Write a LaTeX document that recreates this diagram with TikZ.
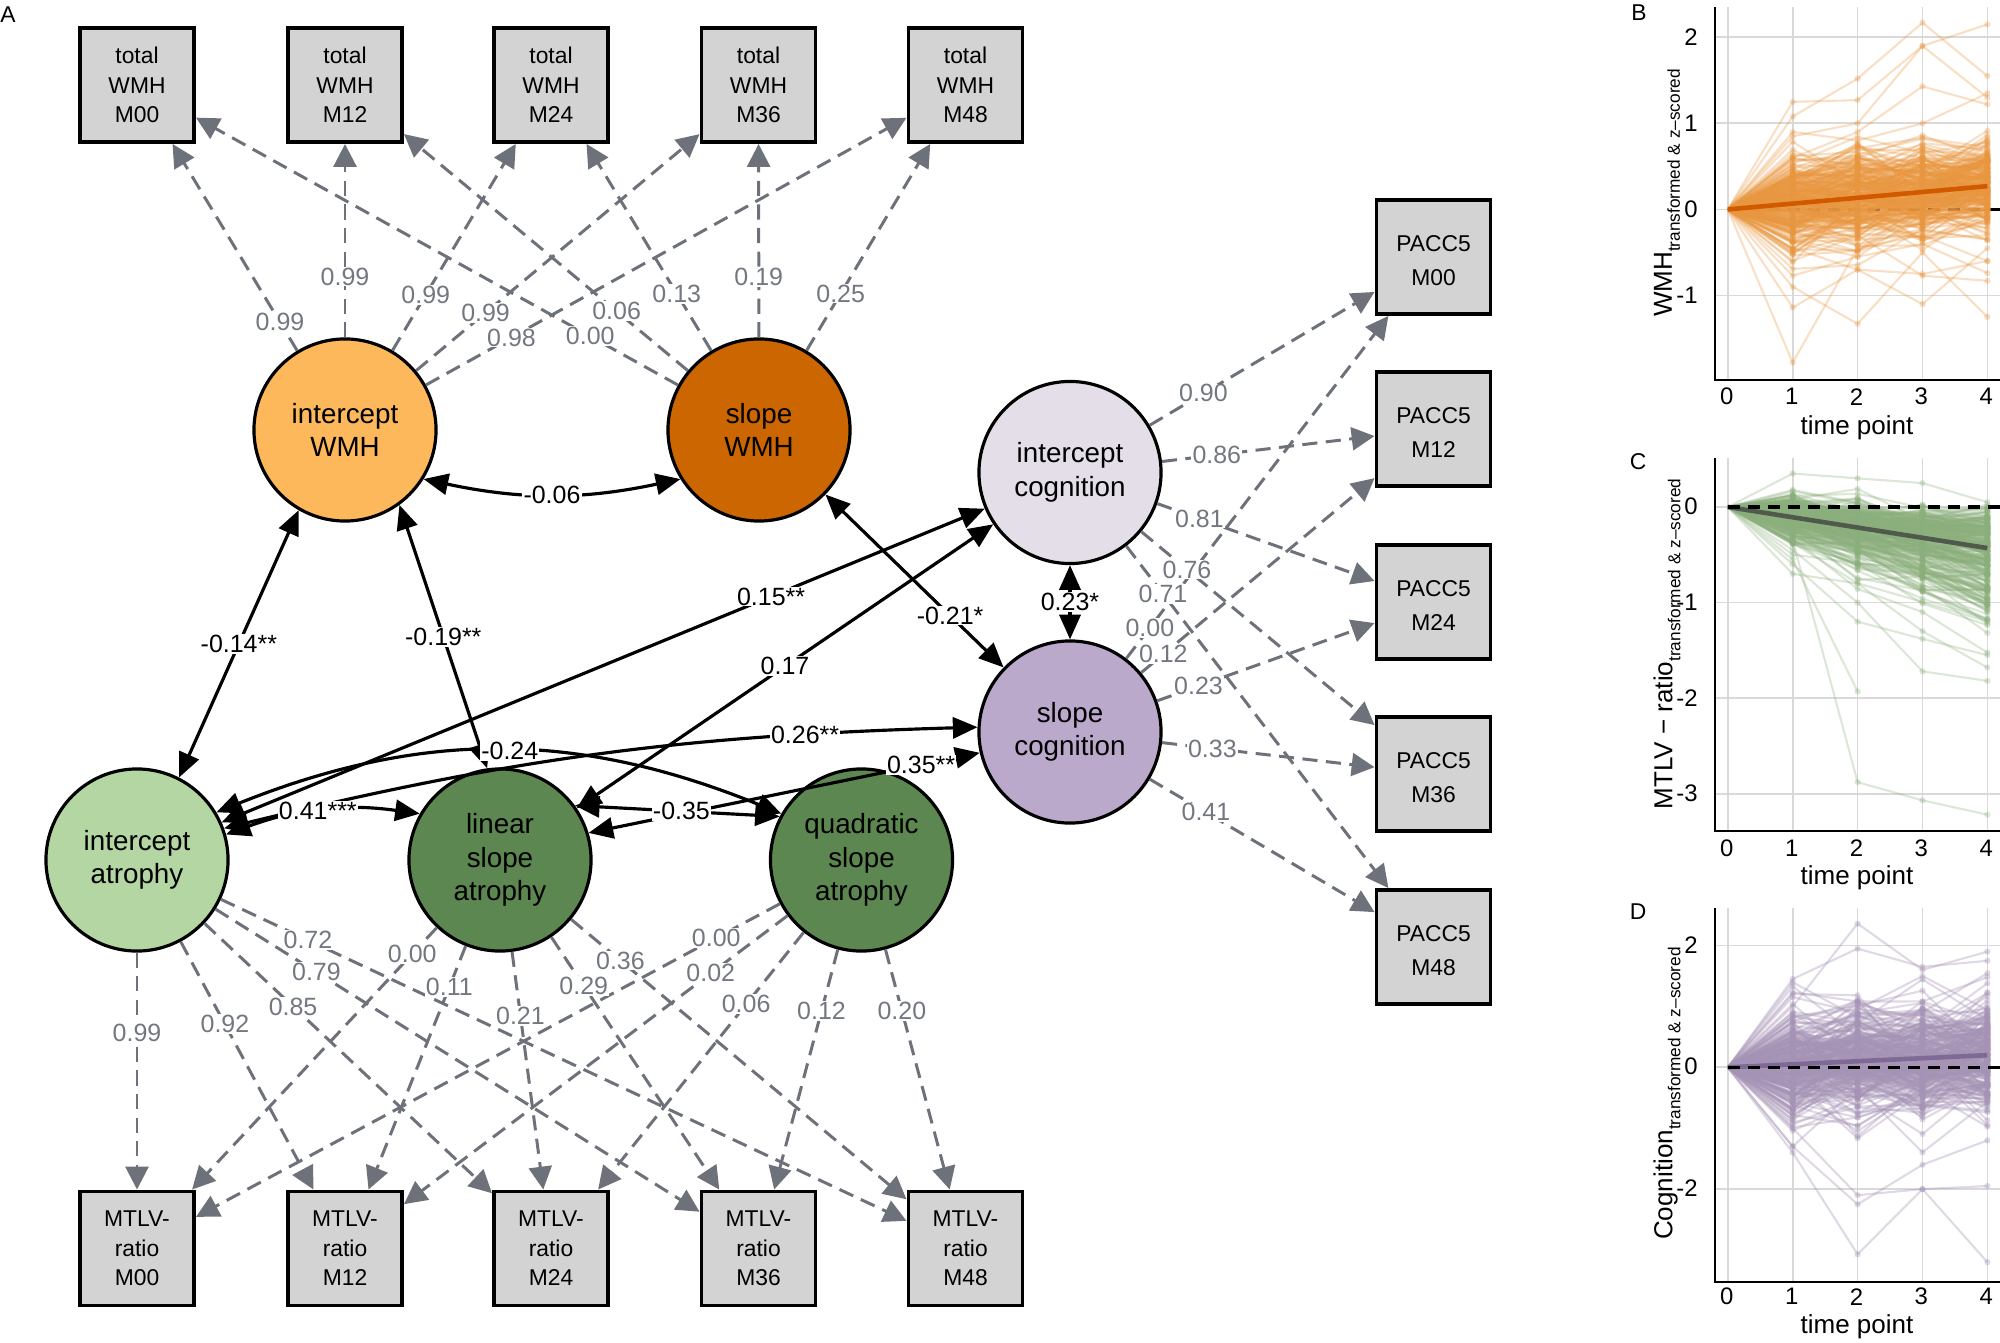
\documentclass[tikz,border=0pt]{standalone}
\usepackage{fontspec}
\setmainfont{Liberation Sans}
\usetikzlibrary{arrows.meta}
\definecolor{boxfill}{HTML}{D3D3D3}
\definecolor{cIW}{HTML}{FDB85B}
\definecolor{cSW}{HTML}{CC6600}
\definecolor{cIC}{HTML}{E3DEE8}
\definecolor{cSC}{HTML}{BBA9CC}
\definecolor{cIA}{HTML}{B3D6A3}
\definecolor{cSA}{HTML}{5D8750}
\definecolor{lgray}{HTML}{6D727A}
\definecolor{tgray}{HTML}{737880}
\definecolor{gridc}{HTML}{D9D9D9}
\definecolor{cB}{HTML}{E8963F}
\definecolor{cC}{HTML}{8AAE7B}
\definecolor{cD}{HTML}{A593B5}
\definecolor{mB}{HTML}{D15A00}
\definecolor{mC}{HTML}{505A4C}
\definecolor{mD}{HTML}{7E6A94}
\tikzset{
 lat/.style={circle, draw=black, line width=0.9pt, minimum size=1.82cm, inner sep=0pt, align=center, font=\fontsize{7.9}{9.5}\selectfont},
 obs/.style={rectangle, draw=black, line width=1.1pt, fill=boxfill, minimum width=1.14cm, minimum height=1.14cm, inner sep=0pt, align=center, font=\fontsize{6.5}{8.4}\selectfont},
 load/.style={draw=lgray, line width=0.85pt, dash pattern=on 4.3pt off 2.4pt, -{Triangle[length=6.5pt,width=6.5pt]}},
 cov/.style={draw=black, line width=0.9pt, {Triangle[length=7pt,width=6pt]}-{Triangle[length=7pt,width=6pt]}},
 glab/.style={fill=white, inner sep=0.3pt, text=tgray, font=\fontsize{7.1}{8}\selectfont},
 blab/.style={fill=white, inner sep=0.3pt, text=black, font=\fontsize{7.1}{8}\selectfont},
 gridl/.style={draw=gridc, line width=0.5pt},
 zero/.style={draw=black, line width=1pt, dash pattern=on 3.4pt off 2.3pt},
 axisl/.style={draw=black, line width=0.5pt},
 tick/.style={font=\fontsize{6.8}{8}\selectfont},
 atitle/.style={font=\fontsize{7.4}{9}\selectfont},
 plab/.style={font=\fontsize{6.5}{8}\selectfont},
 bl/.style={draw=cB, opacity=0.3, line width=0.6pt},
 bd/.style={fill=cB, opacity=0.3},
 cl/.style={draw=cC, opacity=0.3, line width=0.6pt},
 cd/.style={fill=cC, opacity=0.3},
 dl/.style={draw=cD, opacity=0.35, line width=0.6pt},
 dd/.style={fill=cD, opacity=0.35},
}
\newcommand{\subtz}{\raisebox{-0.3em}{\fontsize{4.9}{5}\selectfont transformed \& z–scored}}
\newcommand{\pacctext}[1]{\raisebox{-1.6pt}[\height][\depth]{\begin{tabular}{@{}c@{}}PACC5\\[1.5pt]#1\end{tabular}}}
\def\loadlist{iWMH/wm0/0.138/0.99,%
iWMH/wm1/0.315/0.99,%
iWMH/wm2/0.27/0.99,%
iWMH/wm3/0.245/0.99,%
iWMH/wm4/0.178/0.98,%
sWMH/wm0/0.182/0.00,%
sWMH/wm1/0.251/0.06,%
sWMH/wm2/0.276/0.13,%
sWMH/wm3/0.314/0.19,%
sWMH/wm4/0.276/0.25,%
iCog/pc0/0.239/0.90,%
iCog/pc1/0.258/0.86,%
iCog/pc2/0.194/0.81,%
iCog/pc3/0.196/0.76,%
iCog/pc4/0.14/0.71,%
sCog/pc0/0.09/0.00,%
sCog/pc1/0.095/0.12,%
sCog/pc2/0.19/0.23,%
sCog/pc3/0.237/0.33,%
sCog/pc4/0.25/0.41,%
iAtr/mt0/0.34/0.99,%
iAtr/mt1/0.333/0.92,%
iAtr/mt2/0.308/0.85,%
iAtr/mt3/0.2085/0.79,%
iAtr/mt4/0.127/0.72,%
lsa/mt0/0.10/0.00,%
lsa/mt1/0.168/0.11,%
lsa/mt2/0.269/0.21,%
lsa/mt3/0.193/0.29,%
lsa/mt4/0.147/0.36,%
qsa/mt0/0.109/0.00,%
qsa/mt1/0.2/0.02,%
qsa/mt2/0.28/0.06,%
qsa/mt3/0.255/0.12,%
qsa/mt4/0.255/0.20}
\begin{document}
\begin{tikzpicture}[x=0.01cm,y=0.01cm]
\useasboundingbox (0,0) rectangle (2000,-1343);
\node[plab] (pA) at (8,-15) {A};
% observed boxes
\node[obs] (wm0) at (137,-85) {total\\WMH\\M00};
\node[obs] (wm1) at (345,-85) {total\\WMH\\M12};
\node[obs] (wm2) at (551,-85) {total\\WMH\\M24};
\node[obs] (wm3) at (758.5,-85) {total\\WMH\\M36};
\node[obs] (wm4) at (965.5,-85) {total\\WMH\\M48};
\node[obs] (mt0) at (137,-1248.5) {MTLV-\\ratio\\M00};
\node[obs] (mt1) at (345,-1248.5) {MTLV-\\ratio\\M12};
\node[obs] (mt2) at (551,-1248.5) {MTLV-\\ratio\\M24};
\node[obs] (mt3) at (758.5,-1248.5) {MTLV-\\ratio\\M36};
\node[obs] (mt4) at (965.5,-1248.5) {MTLV-\\ratio\\M48};
\node[obs] (pc0) at (1433.5,-257) {\pacctext{M00}};
\node[obs] (pc1) at (1433.5,-429) {\pacctext{M12}};
\node[obs] (pc2) at (1433.5,-602) {\pacctext{M24}};
\node[obs] (pc3) at (1433.5,-774) {\pacctext{M36}};
\node[obs] (pc4) at (1433.5,-947) {\pacctext{M48}};
% latent variables
\node[lat, fill=cIW] (iWMH) at (345,-430) {intercept\\WMH};
\node[lat, fill=cSW] (sWMH) at (759,-430) {slope\\WMH};
\node[lat, fill=cIC] (iCog) at (1070,-472.5) {intercept\\cognition};
\node[lat, fill=cSC] (sCog) at (1070,-732) {slope\\cognition};
\node[lat, fill=cIA] (iAtr) at (137,-860) {intercept\\atrophy};
\node[lat, fill=cSA] (lsa) at (500,-860) {linear\\slope\\atrophy};
\node[lat, fill=cSA] (qsa) at (861.5,-860) {quadratic\\slope\\atrophy};
% loadings
\foreach \src/\dst/\p/\t [count=\n] in \loadlist {
  \draw[load] (\src) -- coordinate[pos=\p] (L\n) (\dst);
}
% covariances
\draw[cov] (iWMH.-32) to[bend right=12] coordinate[pos=0.5] (K1) (sWMH.-148);
\draw[cov] (iWMH.-120) -- coordinate[pos=0.5] (K2) (iAtr.63);
\draw[cov] (iWMH.-54) -- coordinate[pos=0.5] (K3) (lsa.98);
\draw[cov] (iAtr.24) -- coordinate[pos=0.72] (K4) (iCog.203);
\draw[cov] (lsa.34) -- coordinate[pos=0.5] (K5) (iCog.214);
\draw[cov] (sWMH) -- coordinate[pos=0.7] (K6) (sCog);
\draw[cov] (iCog) -- coordinate[pos=0.5] (K7) (sCog);
\draw[cov] (iAtr.20) to[bend left=6] coordinate[pos=0.79] (K8) (sCog.177);
\draw[cov] (lsa.17) -- coordinate[pos=0.85] (K9) (sCog.193);
\draw[cov] (iAtr.31) to[bend left=22] coordinate[pos=0.52] (K10) (qsa.150);
\draw[cov] (iAtr.16) to[bend left=14] coordinate[pos=0.48] (K11) (lsa.150);
\draw[cov] (lsa.36) -- coordinate[pos=0.52] (K12) (qsa.152);
% labels
\foreach \src/\dst/\p/\t [count=\n] in \loadlist {
  \node[glab] at (L\n) {\t};
}
\node[blab] at (K1) {-0.06};
\node[blab] at (K2) {-0.14**};
\node[blab] at (K3) {-0.19**};
\node[blab] at (K4) {0.15**};
\node[blab] at (K5) {0.17};
\node[blab] at (K6) {-0.21*};
\node[blab] at (K7) {0.23*};
\node[blab] at (K8) {0.26**};
\node[blab] at (K9) {0.35**};
\node[blab] at (K10) {-0.24};
\node[blab] at (K11) {0.41***};
\node[blab] at (K12) {-0.35};

% ---------------- Panel B ----------------
\begin{scope}[shift={(17.268cm,-2.093cm)},x=0.6485cm,y=0.86cm]
 \begin{scope}
 \clip (-0.197,-1.985) rectangle (4.3,2.35);
 \foreach \t in {0,...,4} \draw[gridl] (\t,-1.985) -- (\t,2.35);
 \foreach \v in {-1,0,1,2} \draw[gridl] (-0.197,\v) -- (4.3,\v);
 \draw[zero] (0,0) -- (4.3,0);
 \pgfmathsetseed{7}
 \foreach \i in {1,...,280}{
  \pgfmathsetmacro\uu{0.2*(rand+rand+rand)}
  \pgfmathsetmacro\ya{0.067+\uu+0.17*(rand+rand+rand)}
  \pgfmathsetmacro\yb{0.134+\uu+0.17*(rand+rand+rand)}
  \pgfmathsetmacro\yc{0.2+\uu+0.17*(rand+rand+rand)}
  \pgfmathsetmacro\yd{0.27+\uu+0.17*(rand+rand+rand)}
  \draw[bl] (0,0) -- (1,\ya) -- (2,\yb) -- (3,\yc) -- (4,\yd);
  \foreach \q/\w in {1/\ya,2/\yb,3/\yc,4/\yd} \fill[bd] (\q,\w) circle[radius=0.9pt];
 }
 \foreach \ya/\yb/\yc/\yd in {1.25/1.27/1.9/1.3, 0.85/1.0/1.9/2.15, 1.08/1.52/2.17/1.55, -1.78/-0.45/-0.3/-0.6, -1.14/-0.7/-1.1/-0.45, -0.9/-1.33/-0.5/-1.25, 0.6/0.9/1.43/1.22, -0.6/-0.3/-0.77/-0.83, -0.77/-0.55/-0.4/-0.74, 0.9/0.8/1.0/1.35, -0.45/-0.7/-0.75/-0.6}{
  \draw[bl] (0,0) -- (1,\ya) -- (2,\yb) -- (3,\yc) -- (4,\yd);
  \foreach \q/\w in {1/\ya,2/\yb,3/\yc,4/\yd} \fill[bd] (\q,\w) circle[radius=0.9pt];
 }
 \draw[draw=mB, line width=1.3pt] (0,0) -- (4,0.27);
 \end{scope}
 \draw[axisl] (-0.197,2.35) -- (-0.197,-1.985) -- (4.3,-1.985);
\end{scope}
% ---------------- Panel C ----------------
\begin{scope}[shift={(17.268cm,-5.067cm)},x=0.6485cm,y=0.955cm]
 \begin{scope}
 \clip (-0.197,-3.393) rectangle (4.3,0.51);
 \foreach \t in {0,...,4} \draw[gridl] (\t,-3.393) -- (\t,0.51);
 \foreach \v in {-3,-2,-1,0} \draw[gridl] (-0.197,\v) -- (4.3,\v);
 \pgfmathsetseed{21}
 \foreach \i in {1,...,280}{
  \pgfmathsetmacro\uu{-0.02-0.13*abs(rand+rand+rand)}
  \pgfmathsetmacro\ya{\uu+0.09*(rand+rand+rand)}
  \pgfmathsetmacro\yb{2*\uu+0.09*(rand+rand+rand)}
  \pgfmathsetmacro\yc{3*\uu+0.09*(rand+rand+rand)}
  \pgfmathsetmacro\yd{4*\uu+0.09*(rand+rand+rand)}
  \draw[cl] (0,0) -- (1,\ya) -- (2,\yb) -- (3,\yc) -- (4,\yd);
  \foreach \q/\w in {1/\ya,2/\yb,3/\yc,4/\yd} \fill[cd] (\q,\w) circle[radius=0.9pt];
 }
 \foreach \ya/\yb/\yc/\yd in {-0.35/-2.88/-3.07/-3.22, -0.45/-1.0/-1.72/-1.82, -0.7/-0.8/-1.3/-1.68, 0.35/0.3/0.25/0.05, -0.6/-1.2/-1.38/-1.55}{
  \draw[cl] (0,0) -- (1,\ya) -- (2,\yb) -- (3,\yc) -- (4,\yd);
  \foreach \q/\w in {1/\ya,2/\yb,3/\yc,4/\yd} \fill[cd] (\q,\w) circle[radius=0.9pt];
 }
 \draw[cl] (0,0) -- (1,-0.55) -- (2,-1.93);
 \fill[cd] (1,-0.55) circle[radius=0.9pt] (2,-1.93) circle[radius=0.9pt];
 \draw[draw=mC, line width=1.3pt] (0,0) -- (4,-0.43);
 \draw[zero] (0,0) -- (4.3,0);
 \end{scope}
 \draw[axisl] (-0.197,0.51) -- (-0.197,-3.393) -- (4.3,-3.393);
\end{scope}
% ---------------- Panel D ----------------
\begin{scope}[shift={(17.268cm,-10.667cm)},x=0.6485cm,y=0.6085cm]
 \begin{scope}
 \clip (-0.197,-3.52) rectangle (4.3,2.61);
 \foreach \t in {0,...,4} \draw[gridl] (\t,-3.52) -- (\t,2.61);
 \foreach \v in {-2,0,2} \draw[gridl] (-0.197,\v) -- (4.3,\v);
 \pgfmathsetseed{5}
 \foreach \i in {1,...,300}{
  \pgfmathsetmacro\uu{0.3*(rand+rand+rand)}
  \pgfmathsetmacro\ya{0.05+\uu+0.33*(rand+rand+rand)}
  \pgfmathsetmacro\yb{0.1+\uu+0.33*(rand+rand+rand)}
  \pgfmathsetmacro\yc{0.15+\uu+0.33*(rand+rand+rand)}
  \pgfmathsetmacro\yd{0.2+\uu+0.33*(rand+rand+rand)}
  \draw[dl] (0,0) -- (1,\ya) -- (2,\yb) -- (3,\yc) -- (4,\yd);
  \foreach \q/\w in {1/\ya,2/\yb,3/\yc,4/\yd} \fill[dd] (\q,\w) circle[radius=0.9pt];
 }
 \foreach \ya/\yb/\yc/\yd in {-1.4/-3.07/-2.0/-1.95, -1.0/-2.1/-2.0/-3.2, 1.0/2.36/1.6/1.9, 1.45/1.95/1.65/1.75, -1.3/-2.25/-1.6/-1.2}{
  \draw[dl] (0,0) -- (1,\ya) -- (2,\yb) -- (3,\yc) -- (4,\yd);
  \foreach \q/\w in {1/\ya,2/\yb,3/\yc,4/\yd} \fill[dd] (\q,\w) circle[radius=0.9pt];
 }
 \draw[draw=mD, line width=1.3pt] (0,0) -- (4,0.2);
 \draw[zero] (0,0) -- (4.3,0);
 \end{scope}
 \draw[axisl] (-0.197,2.61) -- (-0.197,-3.52) -- (4.3,-3.52);
\end{scope}
% ---------- panel texts ----------
\node[plab] (pB) at (1639,-13) {B};
\node[plab] (pC) at (1638,-462) {C};
\node[plab] (pD) at (1638,-912) {D};
\foreach \k in {0,...,4} {
  \node[tick] at (1726.8+64.85*\k,-396.7) {\k};
  \node[tick] at (1726.8+64.85*\k,-848) {\k};
  \node[tick] at (1726.8+64.85*\k,-1296.7) {\k};
}
\foreach \v/\yy in {2/37.3,1/123.3,0/209.3,-1/295.3} \node[tick,anchor=east] at (1710,-\yy) {\v};
\foreach \v/\yy in {0/506.7,-1/602.2,-2/697.7,-3/793.2} \node[tick,anchor=east] at (1710,-\yy) {\v};
\foreach \v/\yy in {2/945,0/1066.7,-2/1188.4} \node[tick,anchor=east] at (1710,-\yy) {\v};
\node[atitle] (tB) at (1857,-428) {time point};
\node[atitle] (tC) at (1857,-878) {time point};
\node[atitle] (tD) at (1857,-1326.7) {time point};
\node[atitle,rotate=90] (yB) at (1667,-193) {WMH\subtz};
\node[atitle,rotate=90] (yC) at (1667,-644) {MTLV − ratio\subtz};
\node[atitle,rotate=90] (yD) at (1667,-1093.5) {Cognition\subtz};
\end{tikzpicture}
\end{document}
